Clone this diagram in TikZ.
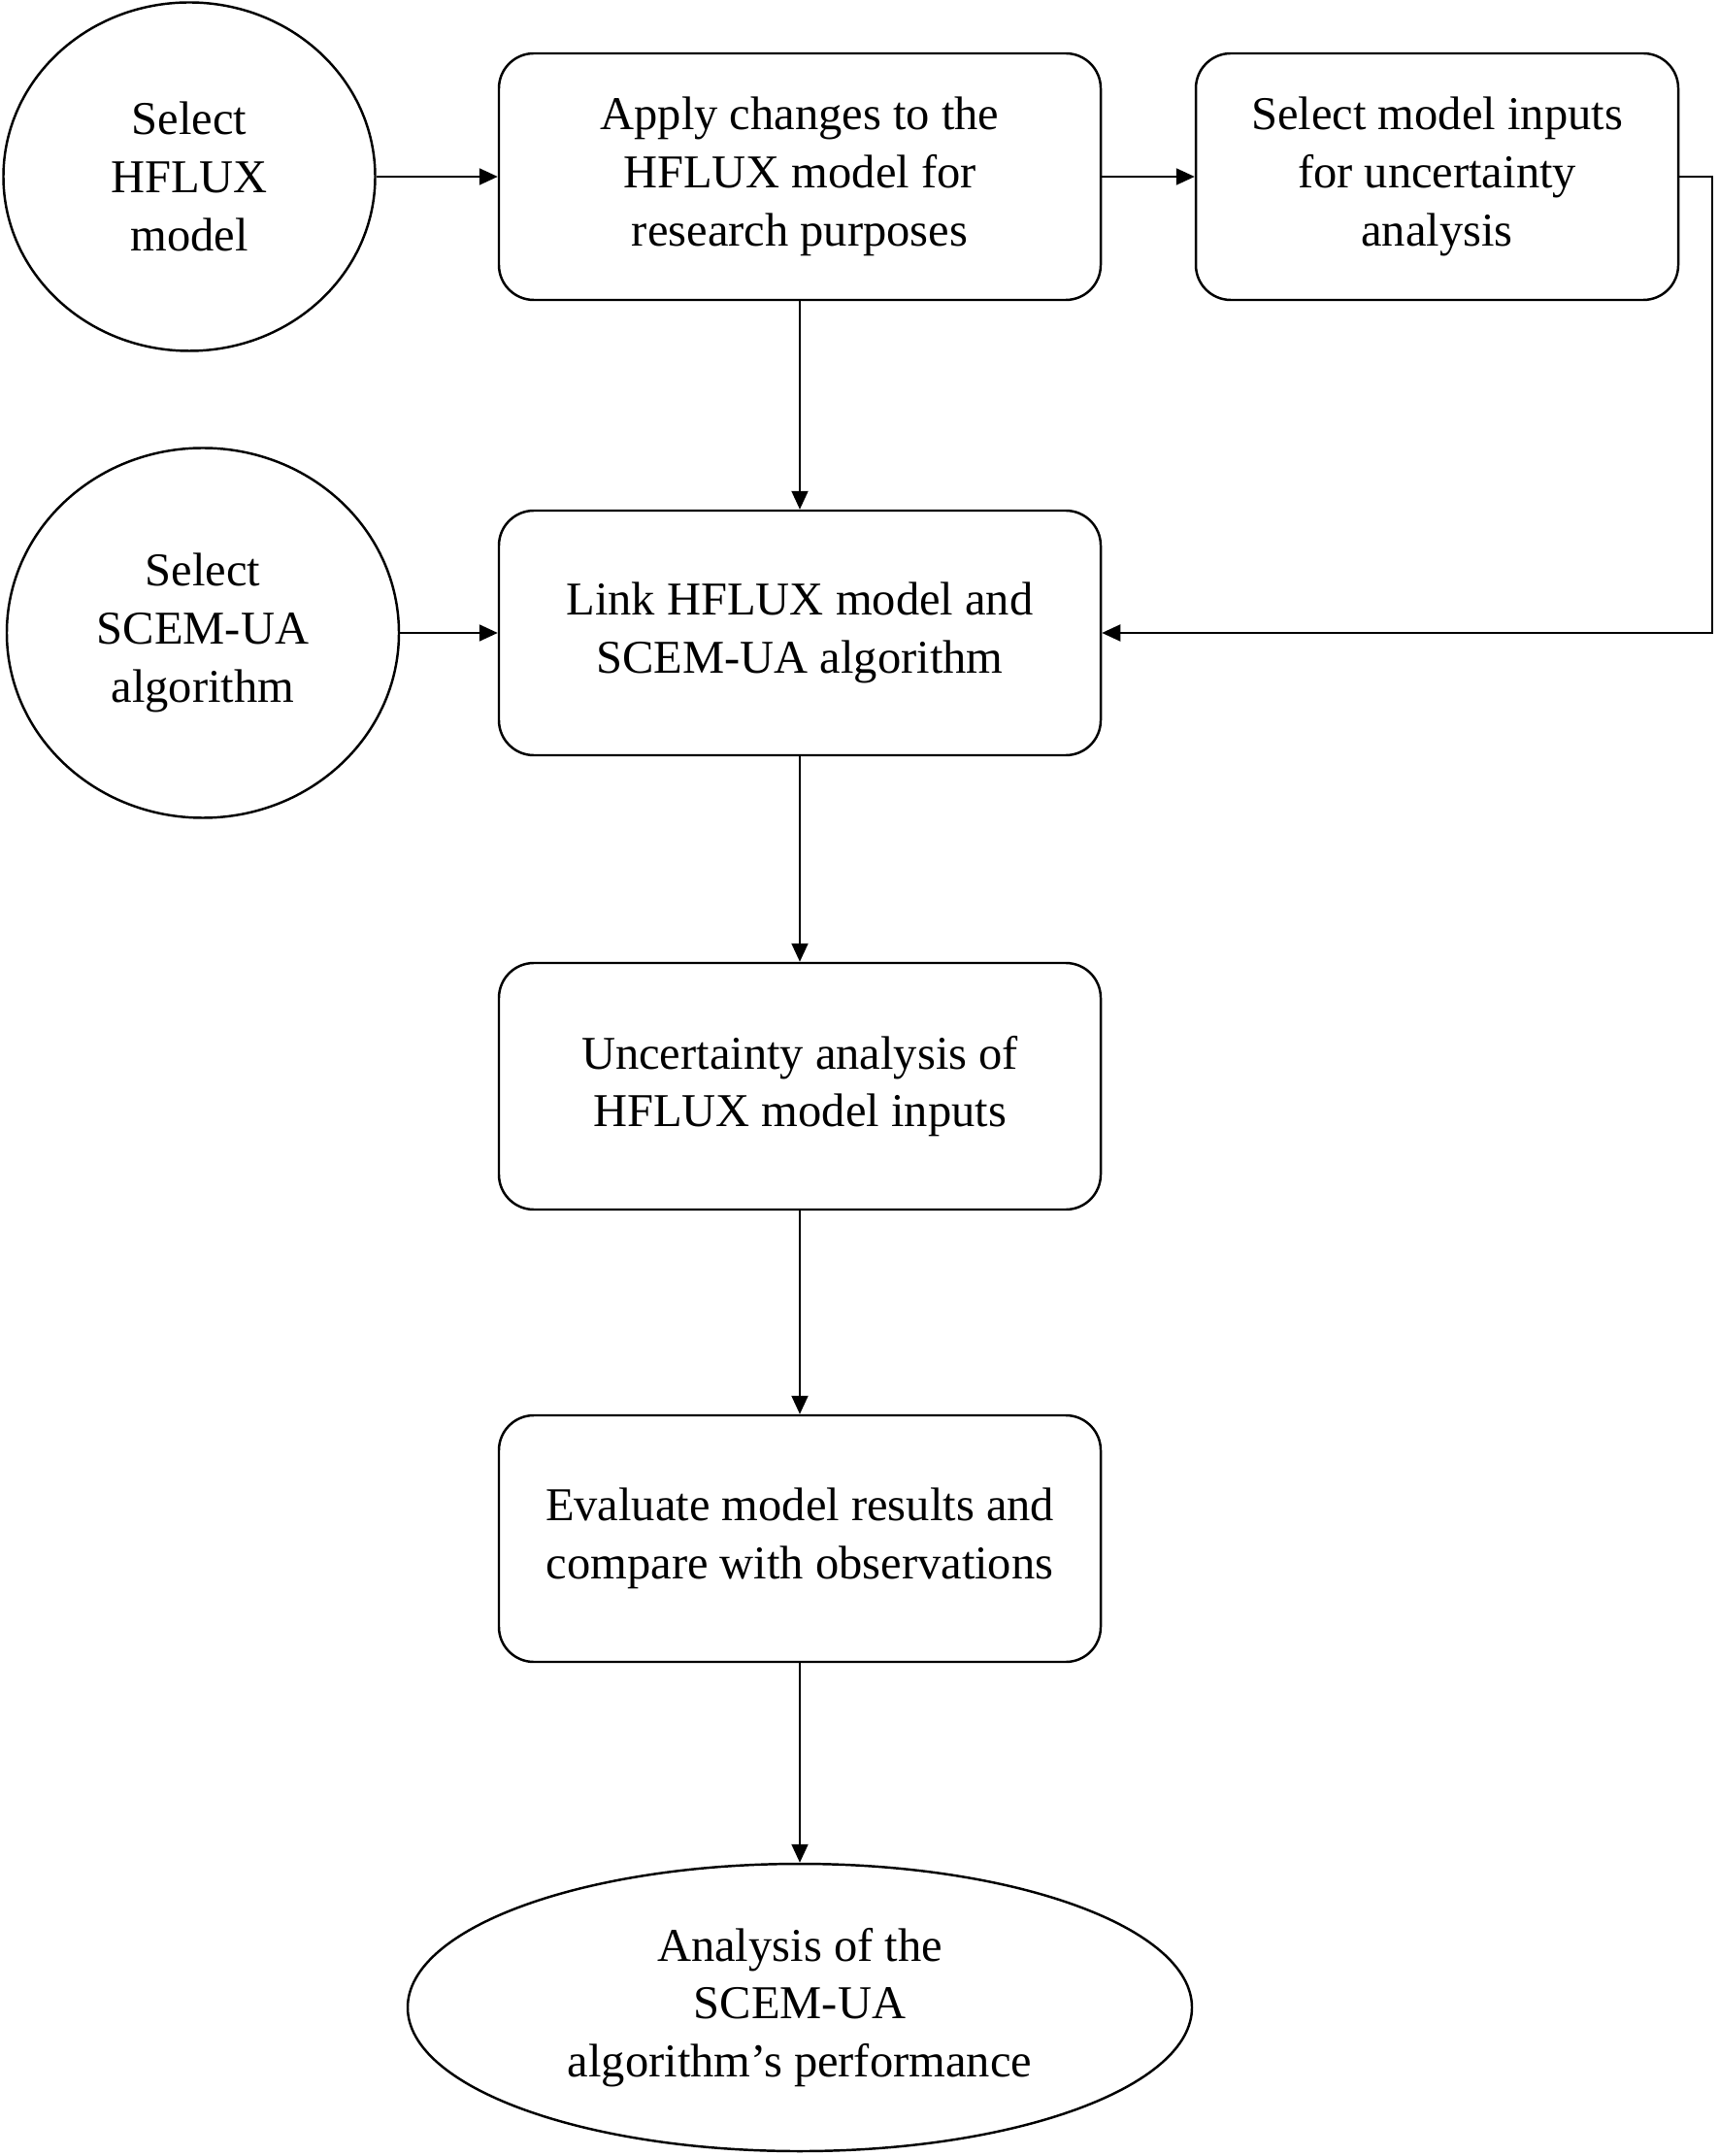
\documentclass[tikz,border=0pt]{standalone}
\usepackage{fontspec}
\setmainfont{Liberation Serif}
\usepackage{tikz}
\usetikzlibrary{arrows.meta,shapes,positioning}

\begin{document}
\begin{tikzpicture}[>={Triangle[length=1.9mm,width=1.7mm]},
  every node/.style={font=\fontsize{13.8}{17}\selectfont, align=center},
  procbox/.style={draw, line width=0.7pt, rounded corners=3.6mm, minimum height=2.54cm, inner sep=0pt},
  startcirc/.style={draw, line width=0.7pt, ellipse, inner sep=0pt},
  flow/.style={->, line width=0.6pt}]
  \useasboundingbox (0,0) rectangle (17.7,-22.21);

  % Start circles
  \node[startcirc, minimum width=3.83cm, minimum height=3.59cm] (selhflux) at (1.95,-1.82) {Select\\HFLUX\\model};
  \node[startcirc, minimum width=4.04cm, minimum height=3.81cm] (selscem) at (2.09,-6.52) {Select\\SCEM-UA\\algorithm};

  % Top row
  \node[procbox, minimum width=6.2cm] (apply) at (8.24,-1.82) {Apply changes to the\\HFLUX model for\\research purposes};
  \node[procbox, minimum width=4.97cm] (inputs) at (14.805,-1.82) {Select model inputs\\for uncertainty\\analysis};

  % Main column
  \node[procbox, minimum width=6.2cm, minimum height=2.52cm] (link) at (8.24,-6.52) {Link HFLUX model and\\SCEM-UA algorithm};
  \node[procbox, minimum width=6.2cm] (uncert) at (8.24,-11.19) {Uncertainty analysis of\\HFLUX model inputs};
  \node[procbox, minimum width=6.2cm] (evalres) at (8.24,-15.85) {Evaluate model results and\\compare with observations};

  % End oval
  \node[startcirc, minimum width=8.08cm, minimum height=2.96cm] (perf) at (8.24,-20.68) {Analysis of the\\SCEM-UA\\algorithm’s performance};

  % Connectors
  \draw[flow] (selhflux) -- (apply);
  \draw[flow] (apply) -- (inputs);
  \draw[flow] (apply) -- (link);
  \draw[flow] (inputs.east) -- ++(0.34,0) |- (link.east);
  \draw[flow] (selscem) -- (link);
  \draw[flow] (link) -- (uncert);
  \draw[flow] (uncert) -- (evalres);
  \draw[flow] (evalres) -- (perf);
\end{tikzpicture}
\end{document}
